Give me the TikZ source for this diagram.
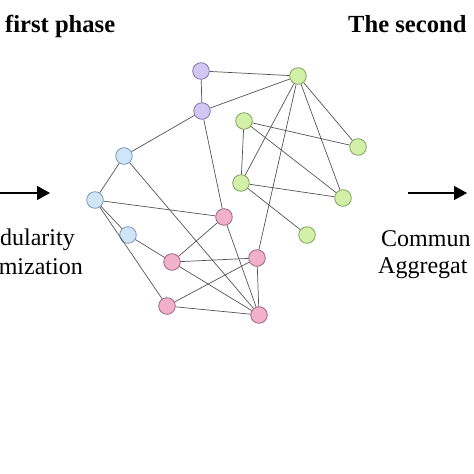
\documentclass[tikz,border=0pt]{standalone}
\usepackage{fontspec}
\setmainfont{Liberation Serif}
\usetikzlibrary{arrows.meta}
\definecolor{bfill}{HTML}{CFE5F8}\definecolor{bdraw}{HTML}{7D98B5}
\definecolor{pfill}{HTML}{F2B0CA}\definecolor{pdraw}{HTML}{9E6680}
\definecolor{gfill}{HTML}{D3F0A8}\definecolor{gdraw}{HTML}{7FA35E}
\definecolor{vfill}{HTML}{D2C6F2}\definecolor{vdraw}{HTML}{8676A8}
\definecolor{edgec}{HTML}{555555}
\tikzset{
  vtx/.style={circle,inner sep=0pt,minimum size=16.6pt,line width=0.8pt},
  bl/.style={vtx,fill=bfill,draw=bdraw},
  pk/.style={vtx,fill=pfill,draw=pdraw},
  gr/.style={vtx,fill=gfill,draw=gdraw},
  pu/.style={vtx,fill=vfill,draw=vdraw},
  edge/.style={draw=edgec,line width=0.7pt},
  title/.style={font=\fontsize{24.6}{28}\selectfont\bfseries,inner sep=0pt,anchor=base west},
  lbl/.style={font=\fontsize{24}{28}\selectfont,inner sep=0pt},
  flow/.style={line width=1.3pt,-{Triangle[length=13pt,width=14pt]}}
}
\begin{document}
\begin{tikzpicture}[x=1pt,y=-1pt]
\useasboundingbox (0,0) rectangle (474,474);
\fill[white] (0,0) rectangle (474,474);
% titles
\node[title] (t1) at (5,32) {first phase};
\node[title] (t2) at (348,32) {The second};
% side labels
\node[lbl,anchor=base east] (m1) at (75,245) {dularity};
\node[lbl,anchor=base east] (m2) at (83,274) {mization};
\node[lbl,anchor=base west] (c1) at (381,246) {Commun};
\node[lbl,anchor=base west] (c2) at (378,273) {Aggregat};
% arrows
\coordinate (a0) at (0,193); \coordinate (a1) at (50,193);
\coordinate (b0) at (408,193); \coordinate (b1) at (467,193);
\draw[flow] (a0) -- (a1);
\draw[flow] (b0) -- (b1);
% vertices
\node[pu] (P1) at (201,71) {};
\node[pu] (P2) at (202,111) {};
\node[gr] (G1) at (298,76) {};
\node[gr] (G2) at (244,121) {};
\node[gr] (G3) at (358,147) {};
\node[gr] (G4) at (241,183) {};
\node[gr] (G5) at (343,198) {};
\node[gr] (G6) at (307,235) {};
\node[bl] (B1) at (124,156) {};
\node[bl] (B2) at (95,200) {};
\node[bl] (B3) at (128,235) {};
\node[pk] (K1) at (224,217) {};
\node[pk] (K2) at (257,258) {};
\node[pk] (K3) at (172,262) {};
\node[pk] (K4) at (167,306) {};
\node[pk] (K5) at (259,315) {};
% edges
\foreach \u/\v in {P1/P2,P1/G1,P2/G1,P2/B1,P2/K1,
  G1/G4,G1/G3,G1/G5,G1/K2,G2/G4,G2/G3,G2/G5,G4/G5,G4/G6,
  B1/B2,B1/K5,B2/K1,B2/B3,B2/K4,B3/K3,
  K3/K1,K3/K2,K3/K5,K4/K2,K4/K5,K1/K5,K2/K5}
  \draw[edge] (\u) -- (\v);
\end{tikzpicture}
\end{document}
